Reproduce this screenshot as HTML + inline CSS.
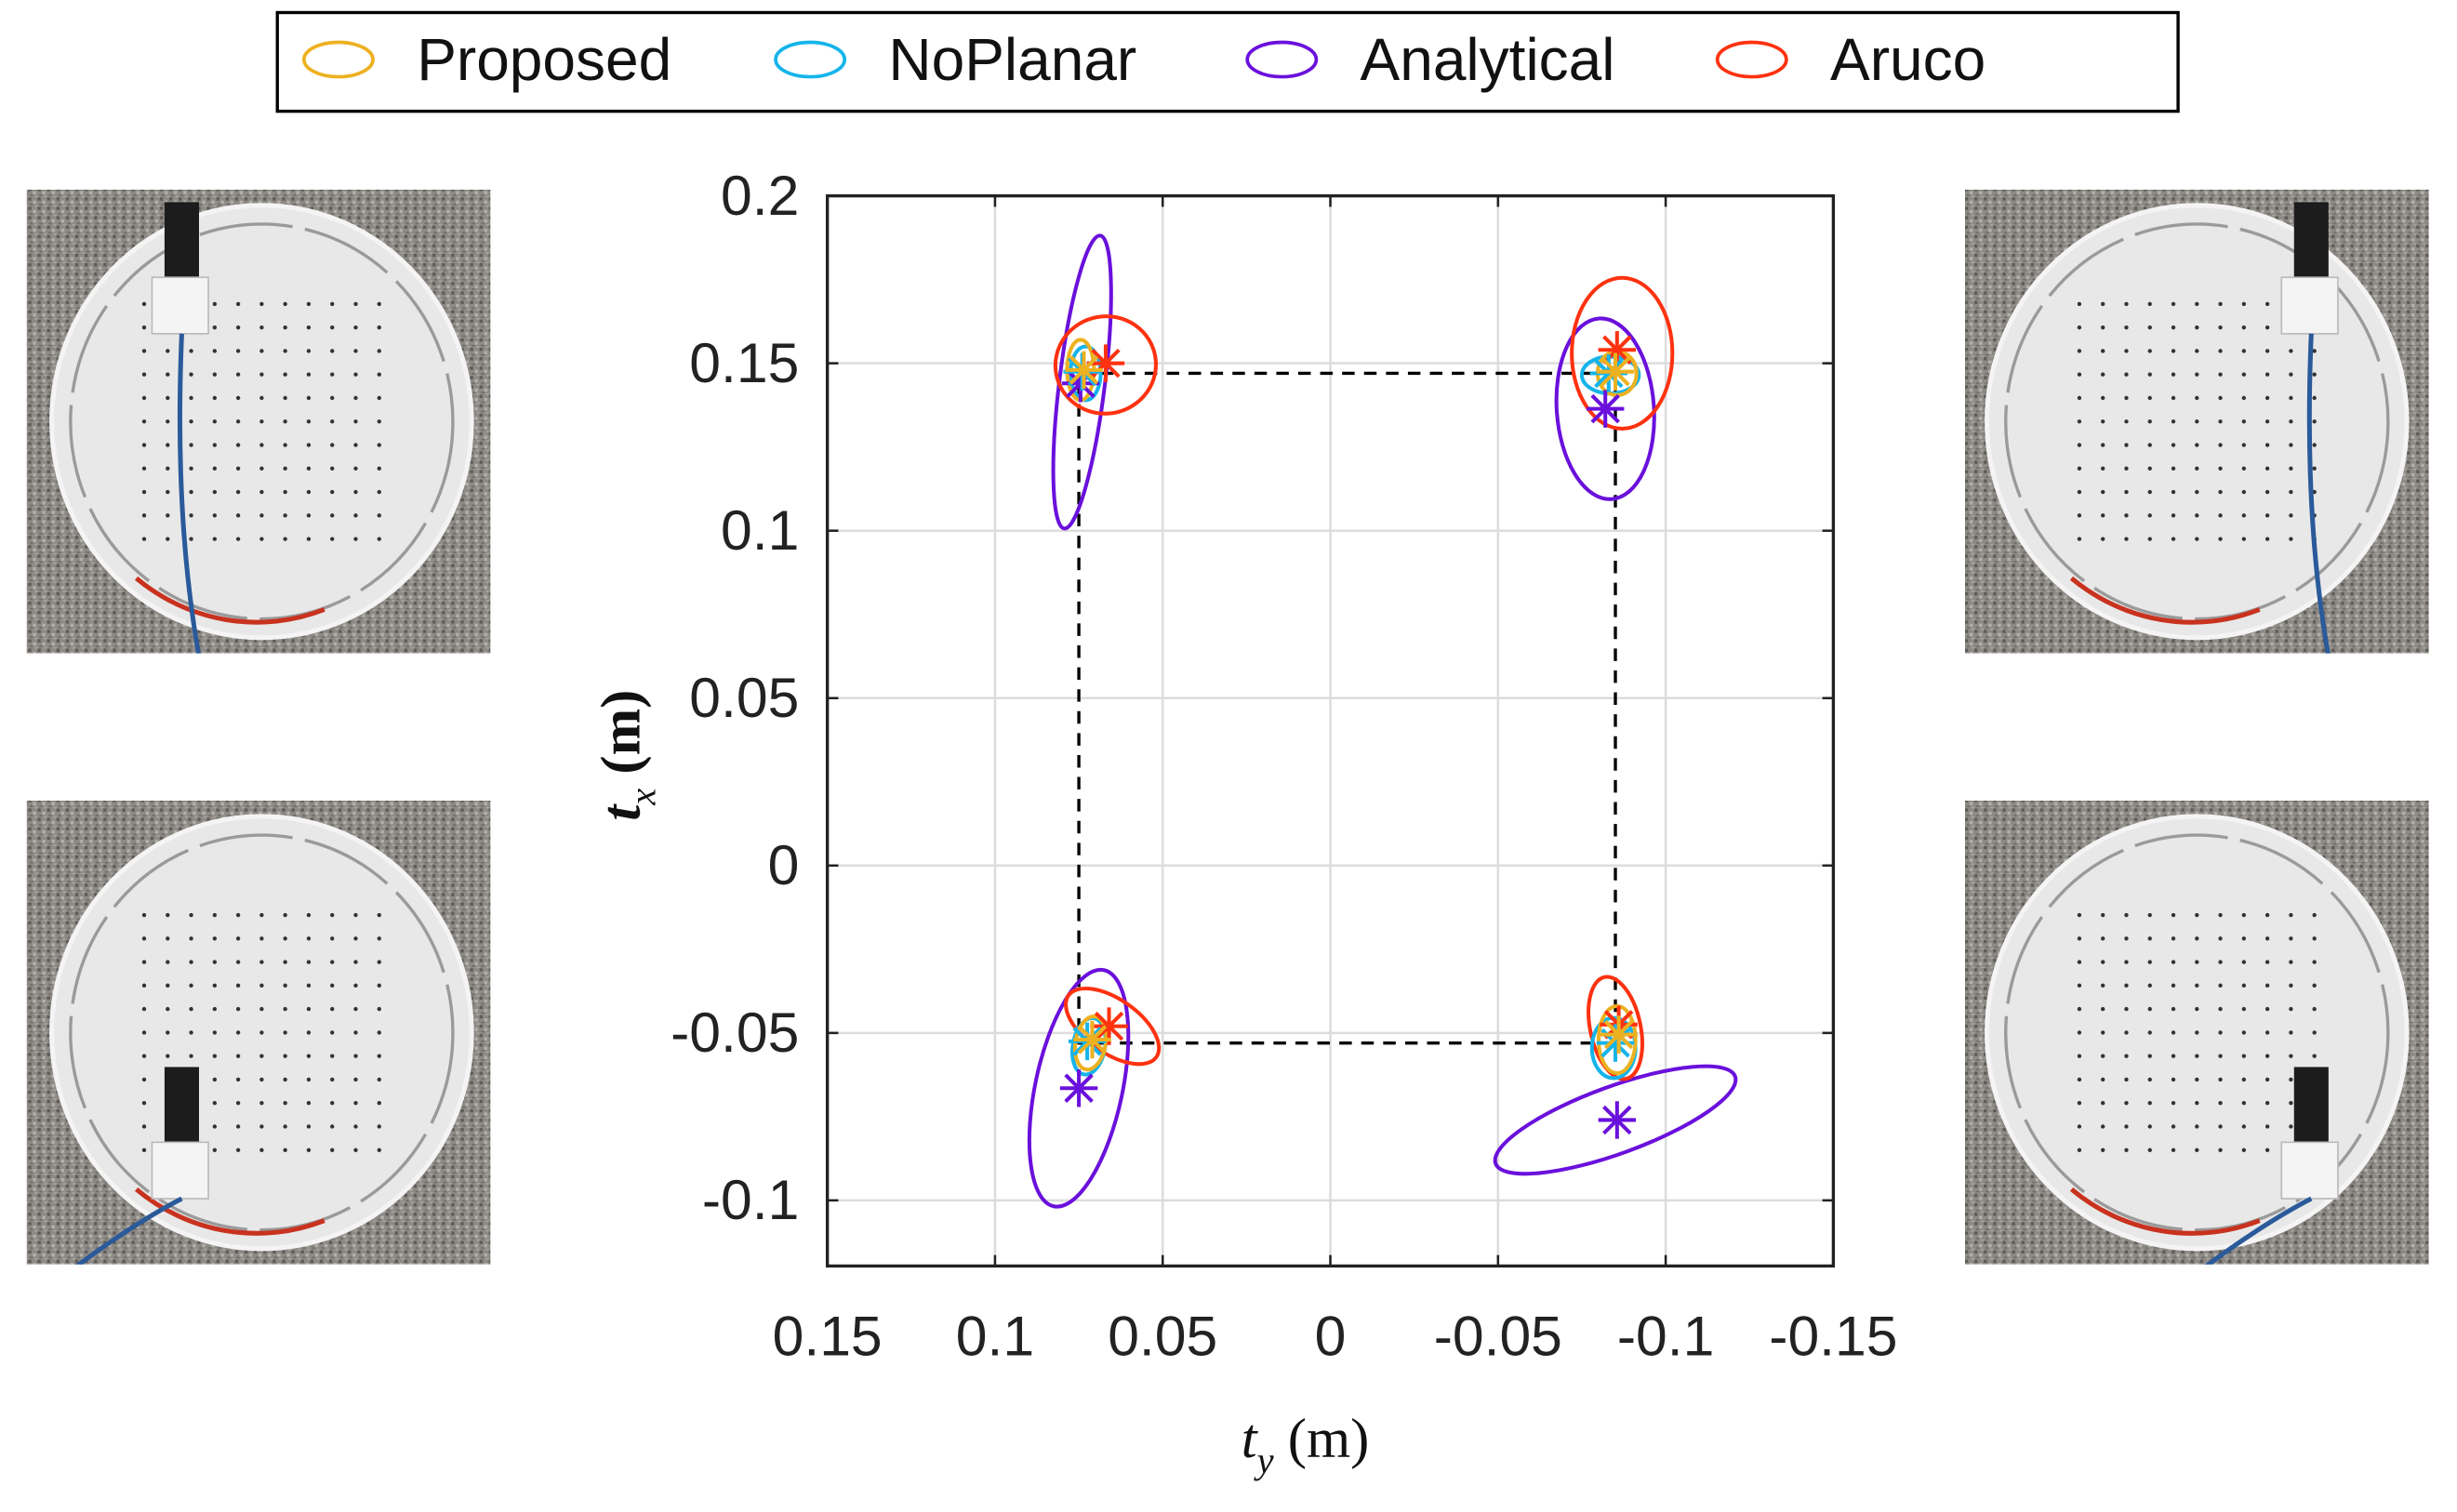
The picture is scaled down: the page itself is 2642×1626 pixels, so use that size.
<!DOCTYPE html>
<html><head><meta charset="utf-8"><style>
html,body{margin:0;padding:0;background:#fff;}
svg{display:block;}
</style></head><body>
<svg id="chart" width="2642" height="1626" viewBox="0 0 1568 965" xmlns="http://www.w3.org/2000/svg" font-family="Liberation Sans, sans-serif">
<defs>
<pattern id="granite" width="6" height="6" patternUnits="userSpaceOnUse">
<rect width="6" height="6" fill="#8d8a86"/>
<rect x="0" y="0" width="2" height="2" fill="#5e5b58"/>
<rect x="3" y="2" width="2" height="2" fill="#b3b0ab"/>
<rect x="1" y="4" width="2" height="1" fill="#6f6c68"/>
<rect x="4" y="5" width="2" height="1" fill="#a8a49f"/>
</pattern>
</defs>
<g id="photos"></g>
<g id="plot"></g>
<g id="legend">
<rect x="177" y="8" width="1213" height="63" fill="#fff" stroke="#000" stroke-width="2"/>
</g>
</svg>
<script>
// ---- data (ty, tx in metres) ----
const methods = ['Proposed','NoPlanar','Analytical','Aruco'];
const colors = ['#EDB120','#14B4EA','#6A10DC','#FF3210'];
// centers of ellipses per method for corners TL, TR, BL, BR
const centerTy = [
  [0.0745, -0.0855, 0.0715, -0.0855],
  [0.073, -0.0835, 0.0720, -0.0845],
  [0.074, -0.0820, 0.0750, -0.0850],
  [0.067, -0.0870, 0.0650, -0.0850]
];
const centerTx = [
  [0.1480, 0.1470, -0.0530, -0.0520],
  [0.1470, 0.1465, -0.0540, -0.0545],
  [0.1444, 0.1364, -0.0665, -0.0760],
  [0.1495, 0.1530, -0.0480, -0.0485]
];
// semi-axes (data units) and tilt (deg)
const semiA = [
  [0.0040, 0.0058, 0.0045, 0.0055],
  [0.0045, 0.0085, 0.0048, 0.0065],
  [0.0068, 0.0145, 0.0130, 0.0380],
  [0.0150, 0.0150, 0.0160, 0.0075]
];
const semiB = [
  [0.0090, 0.0065, 0.0080, 0.0100],
  [0.0080, 0.0055, 0.0085, 0.0090],
  [0.0440, 0.0270, 0.0360, 0.0100],
  [0.0145, 0.0225, 0.0080, 0.0155]
];
const tilt = [
  [0, 0, 10, 0],
  [0, 0, 10, 0],
  [7, -4, 12, -20],
  [-10, 0, 35, -12]
];
// star estimates
const starTy = [
  [0.0735, -0.0850, 0.0710, -0.0860],
  [0.0740, -0.0830, 0.0725, -0.0850],
  [0.0745, -0.0820, 0.0750, -0.0855],
  [0.0670, -0.0855, 0.0660, -0.0860]
];
const starTx = [
  [0.1480, 0.1475, -0.0520, -0.0505],
  [0.1475, 0.1470, -0.0525, -0.0530],
  [0.1440, 0.1364, -0.0665, -0.0760],
  [0.1500, 0.1540, -0.0480, -0.0475]
];
const dashTy = [0.075, -0.085];
const dashTx = [0.147, -0.053];
const xTicks = [0.15,0.1,0.05,0,-0.05,-0.1,-0.15];
const xTickLabels = ['0.15','0.1','0.05','0','-0.05','-0.1','-0.15'];
const yTicks = [0.2,0.15,0.1,0.05,0,-0.05,-0.1];
const yTickLabels = ['0.2','0.15','0.1','0.05','0','-0.05','-0.1'];

const NS='http://www.w3.org/2000/svg';
const L=528,R=1170,T=125,B=808;
const xMin=0.15,xMax=-0.15,yMax=0.2,yMin=-0.1196;
function X(v){return L+(v-xMin)/(xMax-xMin)*(R-L);}
function Y(v){return T+(yMax-v)/(yMax-yMin)*(B-T);}
const S=(R-L)/0.3;
function mk(tag,attrs,parent){const e=document.createElementNS(NS,tag);for(const k in attrs)e.setAttribute(k,attrs[k]);parent.appendChild(e);return e;}
const plot=document.getElementById('plot');

mk('rect',{x:L,y:T,width:R-L,height:B-T,fill:'#fff'},plot);
// grid
xTicks.forEach((v,i)=>{
  const g=mk('line',{x1:X(v),x2:X(v),y1:T,y2:B,stroke:'#dcdcdc','stroke-width':1.5},plot);
  
  
  mk('line',{x1:X(v),x2:X(v),y1:T,y2:T+7,stroke:'#222','stroke-width':1.5},plot);
  mk('line',{x1:X(v),x2:X(v),y1:B,y2:B-7,stroke:'#222','stroke-width':1.5},plot);
  const t=mk('text',{x:X(v),y:865,'font-size':36,'text-anchor':'middle',fill:'#222'},plot);
  t.textContent=xTickLabels[i];
  
  
});
yTicks.forEach((v,i)=>{
  const g=mk('line',{x1:L,x2:R,y1:Y(v),y2:Y(v),stroke:'#dcdcdc','stroke-width':1.5},plot);
  
  
  mk('line',{x1:L,x2:L+7,y1:Y(v),y2:Y(v),stroke:'#222','stroke-width':1.5},plot);
  mk('line',{x1:R,x2:R-7,y1:Y(v),y2:Y(v),stroke:'#222','stroke-width':1.5},plot);
  const t=mk('text',{x:510,y:Y(v)+12,'font-size':36,'text-anchor':'end',fill:'#222'},plot);
  t.textContent=yTickLabels[i];
  
  
});
// dashed rectangle
const dr=mk('rect',{x:X(dashTy[0]),y:Y(dashTx[0]),width:X(dashTy[1])-X(dashTy[0]),height:Y(dashTx[1])-Y(dashTx[0]),fill:'none',stroke:'#000','stroke-width':2,'stroke-dasharray':'8 6'},plot);


const order=[2,3,1,0];
order.forEach(m=>{
  for(let c=0;c<4;c++){
    const cx=X(centerTy[m][c]),cy=Y(centerTx[m][c]);
    const e=mk('ellipse',{cx:cx,cy:cy,rx:semiA[m][c]*S,ry:semiB[m][c]*S,transform:`rotate(${tilt[m][c]} ${cx} ${cy})`,fill:'none',stroke:colors[m],'stroke-width':2.4},plot);
    
    
  }
});
order.forEach(m=>{
  for(let c=0;c<4;c++){
    const cx=X(starTy[m][c]),cy=Y(starTx[m][c]);
    const g=mk('g',{stroke:colors[m],'stroke-width':2.4},plot);
    
    
    const r=12;
    [0,45,90,135].forEach(a=>{const rad=a*Math.PI/180;mk('line',{x1:cx-r*Math.cos(rad),y1:cy-r*Math.sin(rad),x2:cx+r*Math.cos(rad),y2:cy+r*Math.sin(rad)},g);});
  }
});
const fr=mk('rect',{x:L,y:T,width:R-L,height:B-T,fill:'none',stroke:'#222','stroke-width':2},plot);


const xl=mk('text',{x:833,y:930,'font-size':36,'font-family':'Liberation Serif, serif',fill:'#111'},plot);
xl.innerHTML='<tspan font-style="italic">t</tspan><tspan font-style="italic" font-size="24" dy="10">y</tspan><tspan dy="-10"> (m)</tspan>';
xl.setAttribute('text-anchor','middle');


const yl=mk('text',{x:0,y:0,'font-size':36,'font-family':'Liberation Serif, serif',fill:'#111','text-anchor':'middle',transform:'translate(408,482) rotate(-90)'},plot);
yl.innerHTML='<tspan font-style="italic" font-weight="bold">t</tspan><tspan font-style="italic" font-size="24" dy="10">x</tspan><tspan dy="-10" font-weight="bold"> (m)</tspan>';



// legend
const leg=document.getElementById('legend');
const legIconX=[216,517,818,1118];
methods.forEach((m,i)=>{
  const g=mk('g',{},leg);
  
  
  mk('ellipse',{cx:legIconX[i],cy:38,rx:22,ry:11,fill:'none',stroke:colors[i],'stroke-width':2.2},g);
  const t=mk('text',{x:legIconX[i]+50,y:51,'font-size':38,fill:'#111'},g);
  t.textContent=m;
});

// photos (approximate)
const photos=document.getElementById('photos');
const defs=document.querySelector('defs');
const photoPos=[[17,121,false,true],[17,511,false,false],[1254,121,true,true],[1254,511,true,false]];
photoPos.forEach((p,i)=>{
  const [px,py,right,camTop]=p;
  const cp=mk('clipPath',{id:'clip'+i},defs);
  mk('rect',{x:px,y:py,width:296,height:296},cp);
  const g=mk('g',{'clip-path':`url(#clip${i})`},photos);
  
  
  mk('rect',{x:px,y:py,width:296,height:296,fill:'url(#granite)'},g);
  const cx=px+(right?148:150), cy=py+148;
  mk('ellipse',{cx:cx,cy:cy,rx:134,ry:138,fill:'#e8e8e8',stroke:'#f4f4f4','stroke-width':3},g);
  mk('ellipse',{cx:cx,cy:cy,rx:122,ry:126,fill:'none',stroke:'#9a9a9a','stroke-width':2,'stroke-dasharray':'60 8'},g);
  mk('path',{d:`M ${cx-80} ${cy+100} A 122 126 0 0 0 ${cx+40} ${cy+120}`,fill:'none',stroke:'#c8321e','stroke-width':3},g);
  for(let r=0;r<11;r++)for(let c=0;c<11;c++){
    mk('circle',{cx:cx-75+c*15,cy:cy-75+r*15,r:1.3,fill:'#333'},g);
  }
  const camX=right?px+210:px+88;
  const camY=camTop?py+8:py+170;
  mk('rect',{x:camX,y:camY,width:22,height:48,fill:'#1c1c1c'},g);
  mk('rect',{x:camX-8,y:camY+48,width:36,height:36,fill:'#f4f4f4',stroke:'#bbb'},g);
  const cab = camTop ? `M ${camX+11} ${camY+84} Q ${camX+6} ${camY+200} ${camX+22} ${camY+290}`
                     : `M ${camX+11} ${camY+84} Q ${camX-20} ${camY+100} ${camX-60} ${camY+130}`;
  mk('path',{d:cab,fill:'none',stroke:'#2a5a9a','stroke-width':3},g);
});
</script>
</body></html>
